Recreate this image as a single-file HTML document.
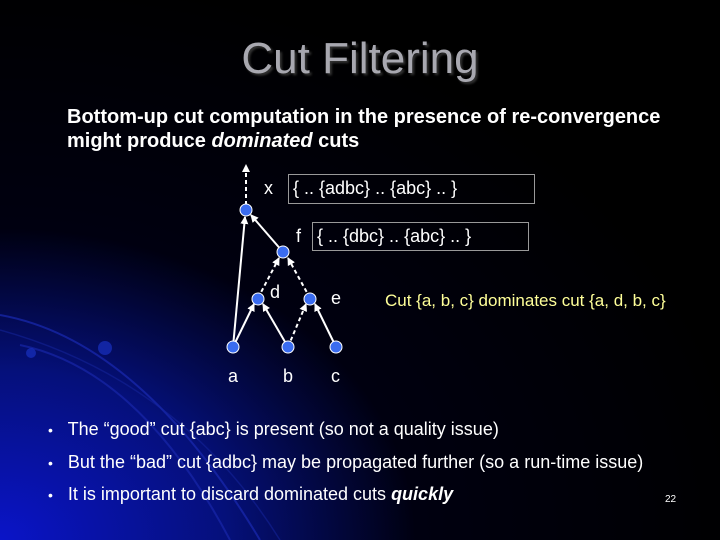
<!DOCTYPE html>
<html><head><style>
body{margin:0;width:720px;height:540px;overflow:hidden;background:#000;font-family:"Liberation Sans",sans-serif;position:relative}
.t{position:absolute;white-space:nowrap}
</style></head><body>
<svg width="720" height="540" style="position:absolute;left:0;top:0">
<defs>
<radialGradient id="g" cx="0" cy="1" r="1.05">
<stop offset="0" stop-color="#0a14c8"/><stop offset="0.3" stop-color="#05107a"/><stop offset="0.55" stop-color="#000010"/><stop offset="1" stop-color="#000"/>
</radialGradient>
<marker id="ar" markerWidth="8" markerHeight="8" refX="7" refY="4" orient="auto" markerUnits="userSpaceOnUse"><path d="M0,0 L8,4 L0,8 z" fill="#fff"/></marker>
</defs>
<rect width="720" height="540" fill="url(#g)"/>
<path d="M0,315 Q140,340 260,540" stroke="#1a2ab0" stroke-width="2" fill="none" opacity="0.7"/>
<path d="M20,345 Q140,370 230,540" stroke="#1a2ab0" stroke-width="2" fill="none" opacity="0.6"/>
<path d="M0,330 Q180,380 280,540" stroke="#1525a0" stroke-width="1.5" fill="none" opacity="0.5"/>
<circle cx="105" cy="348" r="7" fill="#1830c0" opacity="0.7"/>
<circle cx="31" cy="353" r="5" fill="#1830c0" opacity="0.7"/>
<g stroke="#fff" stroke-width="2" fill="none">
<line x1="246" y1="205" x2="246" y2="165" stroke-dasharray="4,3" marker-end="url(#ar)"/>
<line x1="283" y1="252" x2="251" y2="215" marker-end="url(#ar)"/>
<line x1="233" y1="347" x2="245" y2="217" marker-end="url(#ar)"/>
<line x1="258" y1="298" x2="279" y2="258" stroke-dasharray="4,3" marker-end="url(#ar)"/>
<line x1="310" y1="298" x2="288" y2="258" stroke-dasharray="4,3" marker-end="url(#ar)"/>
<line x1="233" y1="347" x2="254" y2="304" marker-end="url(#ar)"/>
<line x1="288" y1="347" x2="263" y2="304" marker-end="url(#ar)"/>
<line x1="288" y1="347" x2="306" y2="304" stroke-dasharray="4,3" marker-end="url(#ar)"/>
<line x1="336" y1="347" x2="315" y2="304" marker-end="url(#ar)"/>
</g>
<g fill="#3a6cf0" stroke="#fff" stroke-width="1">
<circle cx="246" cy="210" r="6"/><circle cx="283" cy="252" r="6"/>
<circle cx="258" cy="299" r="6"/><circle cx="310" cy="299" r="6"/>
<circle cx="233" cy="347" r="6"/><circle cx="288" cy="347" r="6"/><circle cx="336" cy="347" r="6"/>
</g>
<rect x="288.5" y="174.5" width="246" height="29" fill="none" stroke="#999"/>
<rect x="312.5" y="222.5" width="216" height="28" fill="none" stroke="#999"/>
</svg>
<div class="t" style="left:0;width:720px;text-align:center;top:34px;font-size:44px;color:#a8a8b0;text-shadow:2px 2px 2px #333">Cut Filtering</div>
<div class="t" style="left:67px;top:105px;font-size:20px;font-weight:bold;color:#fff;line-height:24px">Bottom-up cut computation in the presence of re-convergence<br>might produce <i>dominated</i> cuts</div>
<div class="t" style="left:264px;top:178px;font-size:18px;color:#fff">x</div>
<div class="t" style="left:293px;top:178px;font-size:18px;color:#fff">{ .. {adbc} .. {abc} .. }</div>
<div class="t" style="left:296px;top:226px;font-size:18px;color:#fff">f</div>
<div class="t" style="left:317px;top:226px;font-size:18px;color:#fff">{ .. {dbc} .. {abc} .. }</div>
<div class="t" style="left:270px;top:282px;font-size:18px;color:#fff">d</div>
<div class="t" style="left:331px;top:288px;font-size:18px;color:#fff">e</div>
<div class="t" style="left:385px;top:291px;font-size:17px;color:#ffff99">Cut {a, b, c} dominates cut {a, d, b, c}</div>
<div class="t" style="left:228px;top:366px;font-size:18px;color:#fff">a</div>
<div class="t" style="left:283px;top:366px;font-size:18px;color:#fff">b</div>
<div class="t" style="left:331px;top:366px;font-size:18px;color:#fff">c</div>
<div class="t" style="left:48px;top:419px;font-size:18px;color:#fff"><span style="font-size:14px">•</span>&nbsp;&nbsp; The “good” cut {abc} is present (so not a quality issue)</div>
<div class="t" style="left:48px;top:452px;font-size:18px;color:#fff"><span style="font-size:14px">•</span>&nbsp;&nbsp; But the “bad” cut {adbc} may be propagated further (so a run-time issue)</div>
<div class="t" style="left:48px;top:484px;font-size:18px;color:#fff"><span style="font-size:14px">•</span>&nbsp;&nbsp; It is important to discard dominated cuts <b><i>quickly</i></b></div>
<div class="t" style="left:665px;top:494px;font-size:10px;color:#fff">22</div>
</body></html>
